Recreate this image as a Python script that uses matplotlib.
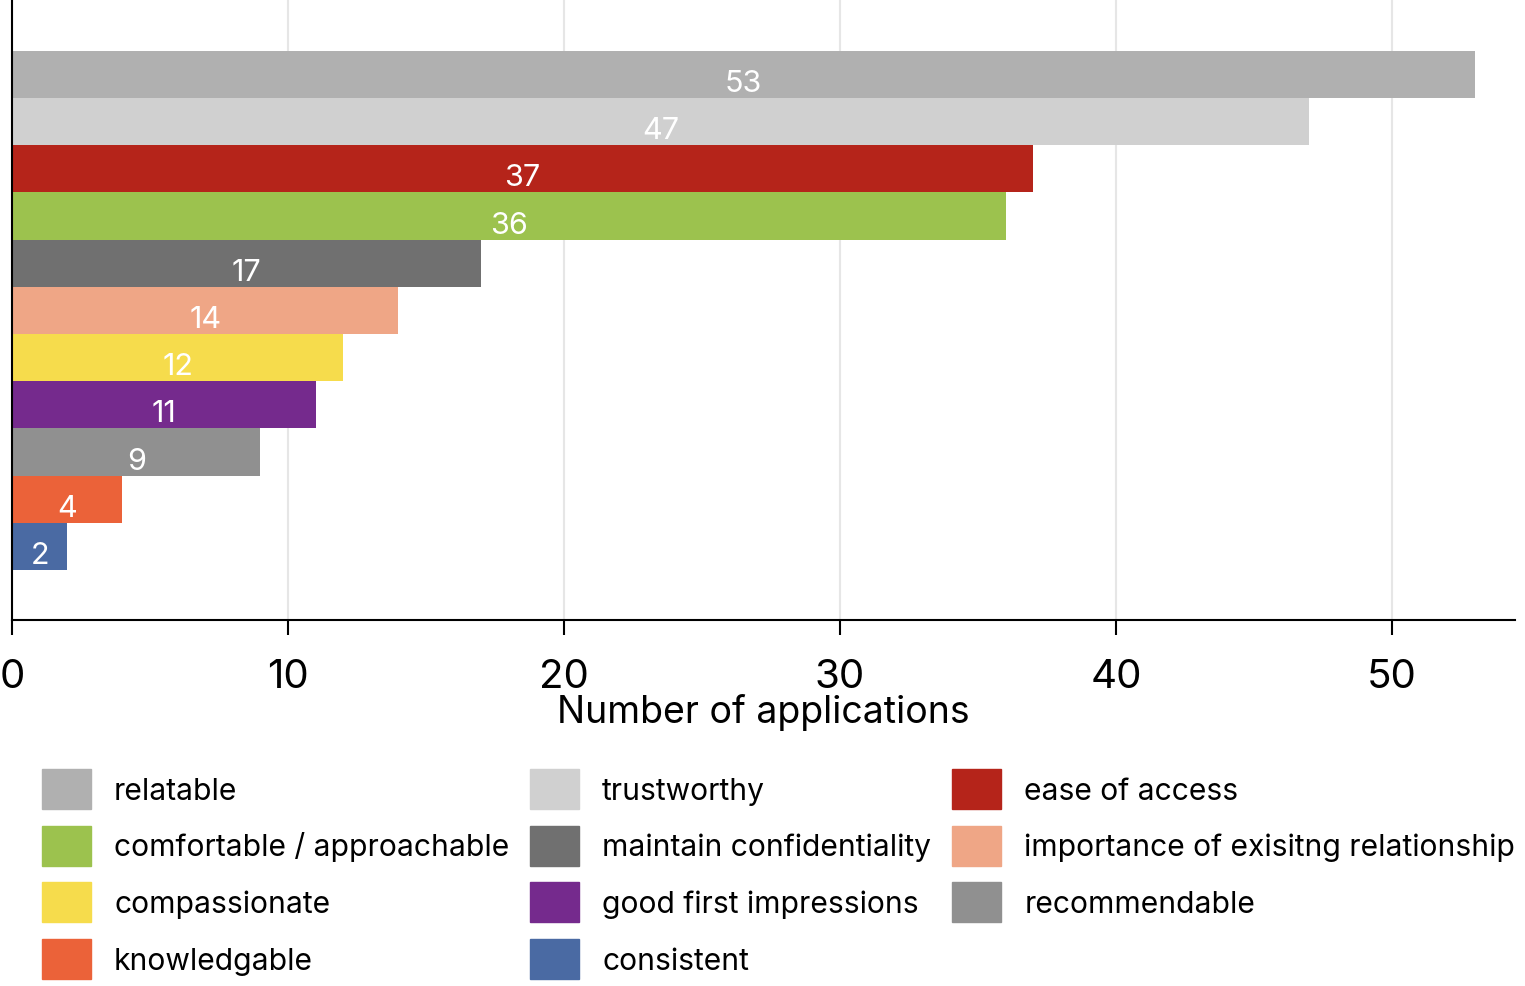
import matplotlib.pyplot as plt
from matplotlib.patches import Patch

plt.rcParams["font.family"] = ["Inter", "DejaVu Sans"]

categories = ["relatable", "trustworthy", "ease of access", "comfortable / approachable",
              "maintain confidentiality", "importance of exisitng relationship", "compassionate",
              "good first impressions", "recommendable", "knowledgable", "consistent"]
values = [53, 47, 37, 36, 17, 14, 12, 11, 9, 4, 2]
colors = ["#b0b0b0", "#d0d0d0", "#b5241a", "#9cc24e", "#707070", "#efa686",
          "#f6dc4c", "#752a8d", "#909090", "#eb6239", "#4a6aa3"]
xticks = [0, 10, 20, 30, 40, 50]

fig = plt.figure(figsize=(15.25, 9.87), dpi=100)
ax = fig.add_axes([12 / 1525, 1 - 621 / 987, (1515 - 12) / 1525, 621 / 987])

pos = list(range(len(values)))
bars = ax.barh(pos, values, height=1.0, color=colors, zorder=2)
ax.set_ylim(11.56, -1.6)
ax.set_xlim(0, 54.46)

for bar, v in zip(bars, values):
    ax.text(v / 2, bar.get_y() + bar.get_height() / 2 + 0.18, str(v),
            ha="center", va="center", color="white", fontsize=22)

ax.set_xticks(xticks)
ax.tick_params(axis="x", length=11, width=1.5, pad=16, labelsize=29)
ax.set_yticks([])
ax.grid(axis="x", color="#e6e6e6", linewidth=1.5, zorder=0)
for s in ["top", "right"]:
    ax.spines[s].set_visible(False)
ax.spines["left"].set_linewidth(1.5)
ax.spines["bottom"].set_linewidth(1.5)
ax.set_xlabel("Number of applications", fontsize=27, labelpad=-1)

# legend: fill columns so rows read across like the original
handles = [Patch(color=c, label=l) for c, l in zip(colors, categories)]
order = [0, 3, 6, 9, 1, 4, 7, 10, 2, 5, 8]
fig.legend([handles[i] for i in order], [categories[i] for i in order],
           loc="upper left", bbox_to_anchor=(42 / 1525, 1 - 770 / 987),
           ncol=3, frameon=False, fontsize=21.6, borderpad=0, borderaxespad=0,
           handlelength=1.63, handleheight=1.674, labelspacing=0.557,
           handletextpad=0.77, columnspacing=0.7)

plt.savefig("out.png")
plt.close()
